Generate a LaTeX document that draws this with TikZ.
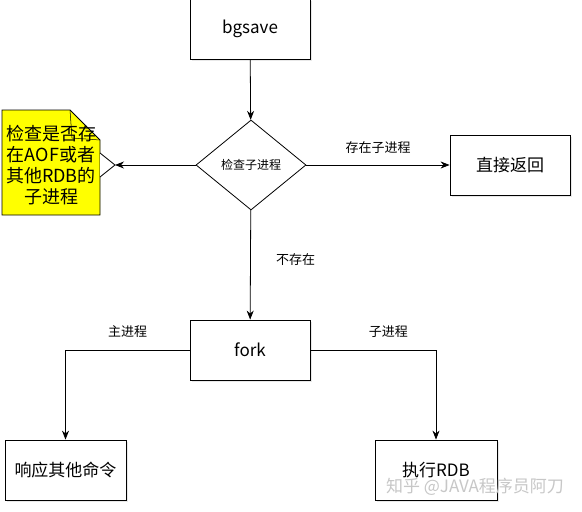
\documentclass[tikz,border=0pt]{standalone}
\usepackage{fontspec}
\setmainfont{Noto Sans CJK SC}
\usetikzlibrary{arrows.meta,shapes.geometric,shadows}
\definecolor{noteyellow}{HTML}{FFFF00}
\tikzset{
  procbox/.style={draw, line width=0.8pt, fill=white,
    minimum width=120pt, minimum height=60pt,
    font=\fontsize{17}{20}\selectfont,
    drop shadow={opacity=0.18, shadow xshift=2pt, shadow yshift=-2pt}},
  checkbox/.style={draw, diamond, line width=0.8pt, fill=white,
    aspect=1.22, inner sep=0pt, minimum width=110pt, minimum height=90pt,
    font=\fontsize{12}{14}\selectfont},
  flowlabel/.style={font=\fontsize{13}{15}\selectfont},
  flow/.style={line width=0.8pt, -{Stealth[length=9pt,width=7pt]}}
}
\begin{document}
\begin{tikzpicture}[x=1pt,y=-1pt]
    \useasboundingbox (0,0) rectangle (582,512);

    %Boxes
    \node[procbox] (bgsave) at (250,29) {bgsave};
    \node[checkbox] (check) at (251,165) {检查子进程};
    \node[procbox] (direct) at (510,165) {直接返回};
    \node[procbox] (fork) at (250,350) {fork};
    \node[procbox, minimum width=121pt] (answer) at (65.5,470) {响应其他命令};
    \node[procbox, minimum width=122pt] (runrdb) at (436,470) {执行RDB};

    %Note
    \draw[line width=0.8pt, fill=noteyellow] (2,110) -- (70,110) -- (100,140)
      -- (100,215) -- (2,215) -- cycle;
    \draw[line width=0.5pt] (70,110) -- (72,138) -- (100,140);
    \coordinate (tip) at (115,165);
    \draw[line width=0.8pt, fill=white] (100,153) -- (tip) -- (100,177);
    \node[font=\fontsize{18}{21}\selectfont, align=center] (note) at (51,165)
      {检查是否存\\在AOF或者\\其他RDB的\\子进程};

    %Connectors
    \draw[flow] (bgsave) -- (check);
    \draw[flow] (check) -- node[flowlabel, above=8pt] {存在子进程} (direct);
    \draw[flow] (check.west) -- (tip);
    \draw[flow] (check) -- node[flowlabel, pos=0.45, right=22pt] {不存在} (fork);
    \draw[flow] (fork.west) -| node[flowlabel, pos=0.25, above=9pt] {主进程} (answer.north);
    \draw[flow] (fork.east) -| node[flowlabel, pos=0.31, above=9pt] {子进程} (runrdb.north);

    %Watermark
    \node[text=black!22, font=\fontsize{17}{20}\selectfont] (mark) at (475,487)
      {知乎 @JAVA程序员阿刀};
\end{tikzpicture}
\end{document}
